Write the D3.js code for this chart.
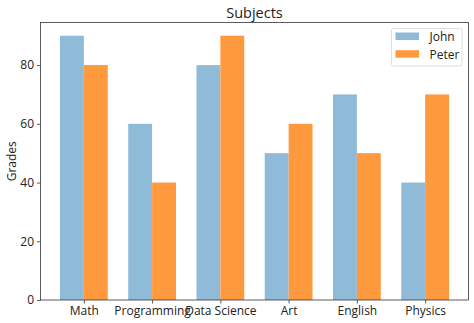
<!DOCTYPE html>
<html>
<head>
<meta charset="utf-8">
<script src="https://cdn.jsdelivr.net/npm/d3@7"></script>
<style>
  html, body { margin: 0; padding: 0; background: #fff; }
  svg { display: block; font-family: "Open Sans", "Noto Sans", sans-serif; }
</style>
</head>
<body>
<div id="chart"></div>
<script>
// Grades per subject for two students
const subjects = ["Math", "Programming", "Data Science", "Art", "English", "Physics"];
const john = [90, 60, 80, 50, 70, 40];
const peter = [80, 40, 90, 60, 50, 70];
const yTicks = [0, 20, 40, 60, 80];

const seriesNames = ["John", "Peter"];
const seriesColors = ["#8fbbd9", "#ff993e"];
const seriesValues = [john, peter];

const W = 474, H = 323;
const margin = { left: 40.5, right: 5.5, top: 22.5, bottom: 23 };
const barW = 0.35;

const svg = d3.select("#chart").append("svg")
  .attr("width", W).attr("height", H);

const x = d3.scaleLinear()
  .domain([-barW - 0.285, subjects.length - 1 + barW + 0.285])
  .range([margin.left, W - margin.right]);

const yMax = d3.max([...john, ...peter]) * 1.05;
const y = d3.scaleLinear()
  .domain([0, yMax])
  .range([H - margin.bottom, margin.top]);

// Bars: John left of the tick, Peter right of it
seriesValues.forEach((vals, s) => {
  svg.append("g").selectAll("rect")
    .data(vals)
    .join("rect")
    .attr("x", (d, i) => x(i + (s === 0 ? -barW : 0)))
    .attr("width", (d, i) => x(i + barW) - x(i))
    .attr("y", d => y(d))
    .attr("height", d => y(0) - y(d))
    .attr("fill", seriesColors[s]);
});

// Axes
const xAxis = d3.axisBottom(x)
  .tickValues(d3.range(subjects.length))
  .tickFormat(i => subjects[i])
  .tickSize(3.5).tickPadding(3);
const yAxis = d3.axisLeft(y)
  .tickValues(yTicks)
  .tickSize(3.5).tickPadding(3);

const gx = svg.append("g")
  .attr("transform", `translate(0,${H - margin.bottom})`)
  .call(xAxis);
const gy = svg.append("g")
  .attr("transform", `translate(${margin.left},0)`)
  .call(yAxis);

[gx, gy].forEach(g => {
  g.select(".domain").remove();
  g.selectAll(".tick line").attr("stroke", "#333").attr("stroke-width", 0.8);
  g.selectAll(".tick text")
    .attr("fill", "#222")
    .style("font-size", "12px")
    .style("font-family", "\"Open Sans\", \"Noto Sans\", sans-serif");
});

// Frame around the plot area
svg.append("rect")
  .attr("x", margin.left).attr("y", margin.top)
  .attr("width", W - margin.right - margin.left)
  .attr("height", H - margin.bottom - margin.top)
  .attr("fill", "none").attr("stroke", "#333").attr("stroke-width", 0.8);

// Title
svg.append("text")
  .attr("x", (margin.left + W - margin.right) / 2)
  .attr("y", 17.5)
  .attr("text-anchor", "middle")
  .attr("fill", "#222")
  .style("font-size", "14.5px")
  .text("Subjects");

// Y-axis label
svg.append("text")
  .attr("transform", `translate(16,${(margin.top + H - margin.bottom) / 2}) rotate(-90)`)
  .attr("text-anchor", "middle")
  .attr("fill", "#222")
  .style("font-size", "12px")
  .text("Grades");

// Legend
const lg = svg.append("g").attr("transform", "translate(391.5,28.5)");
lg.append("rect")
  .attr("width", 70.5).attr("height", 37.5)
  .attr("rx", 2)
  .attr("fill", "#fff").attr("fill-opacity", 0.8)
  .attr("stroke", "#d6d6d6").attr("stroke-width", 0.8);
seriesNames.forEach((name, s) => {
  const row = lg.append("g").attr("transform", `translate(4,${4 + s * 17.7})`);
  row.append("rect")
    .attr("width", 23.5).attr("height", 7.5)
    .attr("fill", seriesColors[s]);
  row.append("text")
    .attr("x", 34).attr("y", 8.5)
    .attr("fill", "#222")
    .style("font-size", "12px")
    .text(name);
});
</script>
</body>
</html>
